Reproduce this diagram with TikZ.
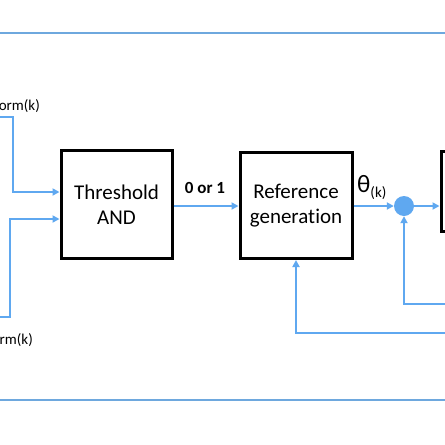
\documentclass[tikz,border=0pt]{standalone}
\usepackage{fontspec}
\setmainfont[Ligatures={NoCommon}]{Carlito}
\usetikzlibrary{arrows.meta}
\definecolor{wireblue}{RGB}{95,168,240}
\definecolor{lineblue}{RGB}{110,168,222}
\begin{document}
\begin{tikzpicture}[x=1pt,y=-1pt,
  block/.style={draw=black,line width=3pt,fill=white,align=center,font=\fontsize{21}{25}\selectfont,inner sep=0pt},
  wire/.style={draw=wireblue,line width=2.2pt},
  arr/.style={wire,-{Triangle[length=7pt,width=7pt]}},
  sumdot/.style={circle,fill=wireblue,minimum size=20pt,inner sep=0pt},
  rule/.style={draw=lineblue,line width=2.4pt},
  lbl/.style={font=\fontsize{15}{16}\selectfont,inner sep=0pt}]
\useasboundingbox (0,0) rectangle (445,445);
\fill[white] (0,0) rectangle (445,445);
\draw[rule] (0,33) -- (445,33);
\draw[rule] (0,400) -- (445,400);
\node[block,minimum width=111pt,minimum height=108pt] (thr) at (116.5,204.5) {Threshold\\AND};
\node[block,minimum width=112pt,minimum height=106pt] (ref) at (296,205.5) {Reference\\generation};
\node[sumdot] (sum) at (404,206) {};
\node[draw=black,line width=3pt,fill=white,minimum width=30pt,minimum height=80pt,inner sep=0pt] (rbox) at (456,191) {};
\coordinate (in1) at (0,117);
\coordinate (in2) at (0,317);
\coordinate (fb1) at (450,304);
\coordinate (fb2) at (450,333);
\draw[arr] (in1) -- (13,117) -- (13,192) -- (thr.west |- 0,192);
\draw[arr] (in2) -- (10,317) -- (10,219) -- (thr.west |- 0,219);
\draw[arr] (thr.east |- 0,206) -- (ref.west |- 0,206);
\draw[arr] (ref.east |- sum) -- (sum);
\draw[arr] (sum) -- (rbox.west |- sum);
\draw[arr] (fb1) -| (sum.south);
\draw[arr] (fb2) -| (ref.south);
\node[lbl,anchor=base east] (l1) at (40,110) {orm(k)};
\node[lbl,anchor=base east] (l2) at (33,344) {rm(k)};
\node[font=\fontsize{17}{17}\selectfont\bfseries,anchor=base,inner sep=0pt] (l3) at (205,193) {0 or 1};
\node[anchor=base west,inner sep=0pt] (l4) at (357,192) {{\fontsize{25}{25}\selectfont θ}\raisebox{-5pt}{\fontsize{15}{15}\selectfont (k)}};
\end{tikzpicture}
\end{document}
